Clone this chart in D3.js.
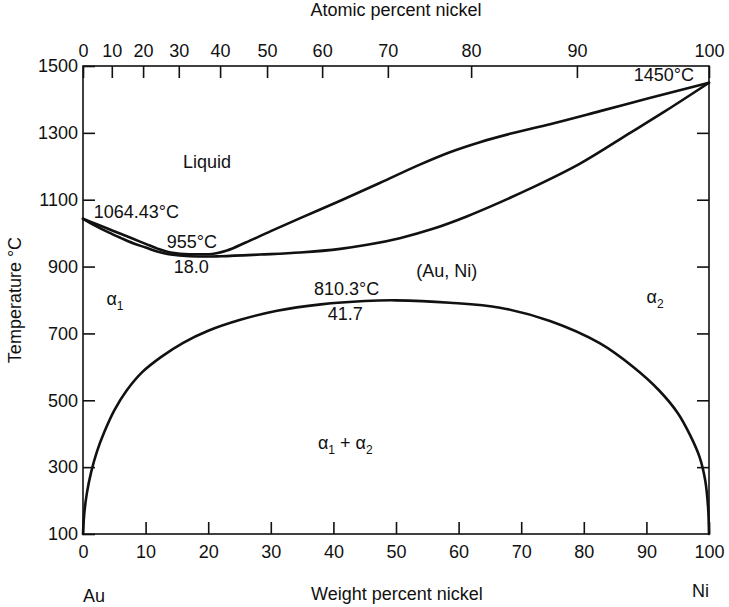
<!DOCTYPE html>
<html>
<head>
<meta charset="utf-8">
<script src="https://cdn.jsdelivr.net/npm/d3@7"></script>
<style>
  html, body { margin: 0; padding: 0; background: #fff; }
  svg { display: block; }
  text { font-family: "Liberation Sans", Arial, Helvetica, sans-serif; fill: #111; }
</style>
</head>
<body>
<svg id="chart" width="729" height="607"></svg>
<script>
// ---- data (weight percent Ni, temperature °C) ----
const liquidusWt = [0, 2, 4, 6, 8, 10, 12, 14, 17, 20, 23, 26, 30, 34.7, 41.1, 47.4, 53.8, 58.6, 63.4, 68.2, 74.6, 82.6, 90.5, 100];
const liquidusT  = [1043, 1028, 1013, 998, 983, 968, 953, 942, 937, 937, 948, 972, 1006, 1045, 1097, 1150, 1205, 1242, 1272, 1297, 1326, 1365, 1404, 1450];

const solidusWt = [0, 2, 4, 6, 8, 10, 12, 14, 17, 20, 22, 28.3, 34.7, 41.1, 45.4, 50.6, 55.9, 61.3, 66.6, 71.4, 79.4, 87.4, 93, 100];
const solidusT  = [1043, 1022, 1003, 986, 970, 957, 944, 936, 931, 930, 931, 936, 942, 953, 965, 985, 1013, 1050, 1092, 1133, 1208, 1300, 1365, 1450];

const gapWt = [0, 0.2, 0.6, 1.3, 2.2, 3.4, 5.0, 7.0, 9.5, 12.5, 16, 20, 25, 31, 38, 45, 50, 58.6, 66.6, 74.6, 82.6, 88, 92, 95, 97, 98.5, 99.4, 99.85, 100];
const gapT  = [100, 160, 220, 285, 345, 405, 470, 530, 585, 630, 672, 708, 740, 768, 787, 797, 799, 792, 777, 737, 670, 598, 530, 462, 395, 330, 260, 180, 100];

// axis ticks
const weightTicks = [0, 10, 20, 30, 40, 50, 60, 70, 80, 90, 100];
const tempTicks = [100, 300, 500, 700, 900, 1100, 1300, 1500];
const atomicLabels = [0, 10, 20, 30, 40, 50, 60, 70, 80, 90, 100];
const atomicAtWeight = [0, 4.6, 9.6, 15.3, 21.9, 29.4, 38.2, 48.7, 62.0, 78.9, 100];

// ---- layout ----
const svg = d3.select("#chart");
const x = d3.scaleLinear().domain([0, 100]).range([83, 709]);
const y = d3.scaleLinear().domain([100, 1500]).range([534, 66]);

svg.append("rect").attr("width", 729).attr("height", 607).attr("fill", "#fff");

const tickLen = 12;
const fs = "18px";

// bottom axis
const gB = svg.append("g").attr("transform", `translate(0,${y(100)})`)
  .call(d3.axisBottom(x).tickValues(weightTicks).tickSizeInner(-tickLen).tickSizeOuter(0).tickPadding(11).tickFormat(d3.format("d")));
// left axis
const gL = svg.append("g").attr("transform", `translate(${x(0)},0)`)
  .call(d3.axisLeft(y).tickValues(tempTicks).tickSizeInner(-tickLen).tickSizeOuter(0).tickPadding(5).tickFormat(d3.format("d")));
// right axis (ticks only)
const gR = svg.append("g").attr("transform", `translate(${x(100)},0)`)
  .call(d3.axisRight(y).tickValues(tempTicks.slice(1, -1)).tickSizeInner(-tickLen).tickSizeOuter(0).tickFormat(""));
// top axis (atomic percent)
const gT = svg.append("g").attr("transform", `translate(0,${y(1500)})`)
  .call(d3.axisTop(x).tickValues(atomicAtWeight).tickSizeInner(-tickLen).tickSizeOuter(0).tickPadding(9)
    .tickFormat((d, i) => atomicLabels[i]));

[gB, gL, gR, gT].forEach(g => {
  g.select(".domain").remove();
  g.selectAll(".tick line").attr("stroke", "#111").attr("stroke-width", 1.6);
  g.selectAll(".tick text").style("font-size", fs).attr("fill", "#111");
});

// frame
svg.append("rect")
  .attr("x", x(0)).attr("y", y(1500))
  .attr("width", x(100) - x(0)).attr("height", y(100) - y(1500))
  .attr("fill", "none").attr("stroke", "#111").attr("stroke-width", 1.6);

// curves
const zip = (a, b) => a.map((v, i) => [v, b[i]]);
const lineMono = d3.line().x(d => x(d[0])).y(d => y(d[1])).curve(d3.curveMonotoneX);
const lineSmooth = d3.line().x(d => x(d[0])).y(d => y(d[1])).curve(d3.curveCatmullRom.alpha(0.5));
[[liquidusWt, liquidusT, lineMono], [solidusWt, solidusT, lineMono], [gapWt, gapT, lineSmooth]].forEach(([a, b, ln]) => {
  svg.append("path").attr("d", ln(zip(a, b)))
    .attr("fill", "none").attr("stroke", "#111").attr("stroke-width", 2.6)
    .attr("stroke-linejoin", "round").attr("stroke-linecap", "round");
});

// annotations
const notes = [
  { t: "Liquid", wt: 19.8, T: 1195, a: "middle" },
  { t: "1064.43°C", wt: 1.7, T: 1046, a: "start" },
  { t: "955°C", wt: 17.4, T: 956, a: "middle" },
  { t: "18.0", wt: 17.3, T: 881, a: "middle" },
  { t: "(Au, Ni)", wt: 58.1, T: 869, a: "middle" },
  { t: "810.3°C", wt: 42.1, T: 816, a: "middle" },
  { t: "41.7", wt: 41.9, T: 741, a: "middle" },
  { t: "1450°C", wt: 97.6, T: 1454, a: "end" }
];
notes.forEach(n => {
  svg.append("text").attr("x", x(n.wt)).attr("y", y(n.T))
    .attr("text-anchor", n.a).style("font-size", fs).text(n.t);
});

function alpha(px, py, sub) {
  const t = svg.append("text").attr("x", px).attr("y", py).attr("text-anchor", "middle").style("font-size", fs);
  t.append("tspan").text("α");
  t.append("tspan").attr("dy", 5).style("font-size", "12px").text(sub);
  return t;
}
alpha(x(5.1), y(786), "1");
alpha(x(91.4), y(792), "2");
{
  const t = svg.append("text").attr("x", x(41.9)).attr("y", y(355)).attr("text-anchor", "middle").style("font-size", fs);
  t.append("tspan").text("α");
  t.append("tspan").attr("dy", 5).style("font-size", "12px").text("1");
  t.append("tspan").attr("dy", -5).text(" + α");
  t.append("tspan").attr("dy", 5).style("font-size", "12px").text("2");
}

// axis titles
svg.append("text").attr("x", 396).attr("y", 16).attr("text-anchor", "middle")
  .style("font-size", "18px").text("Atomic percent nickel");
svg.append("text").attr("x", 397).attr("y", 600).attr("text-anchor", "middle")
  .style("font-size", "18px").text("Weight percent nickel");
svg.append("text").attr("transform", `translate(21,${y(800)}) rotate(-90)`).attr("text-anchor", "middle")
  .style("font-size", "18px").text("Temperature °C");
svg.append("text").attr("x", x(0)).attr("y", 602).style("font-size", "18px").text("Au");
svg.append("text").attr("x", x(100)).attr("y", 597).attr("text-anchor", "end").style("font-size", "18px").text("Ni");
</script>
</body>
</html>
